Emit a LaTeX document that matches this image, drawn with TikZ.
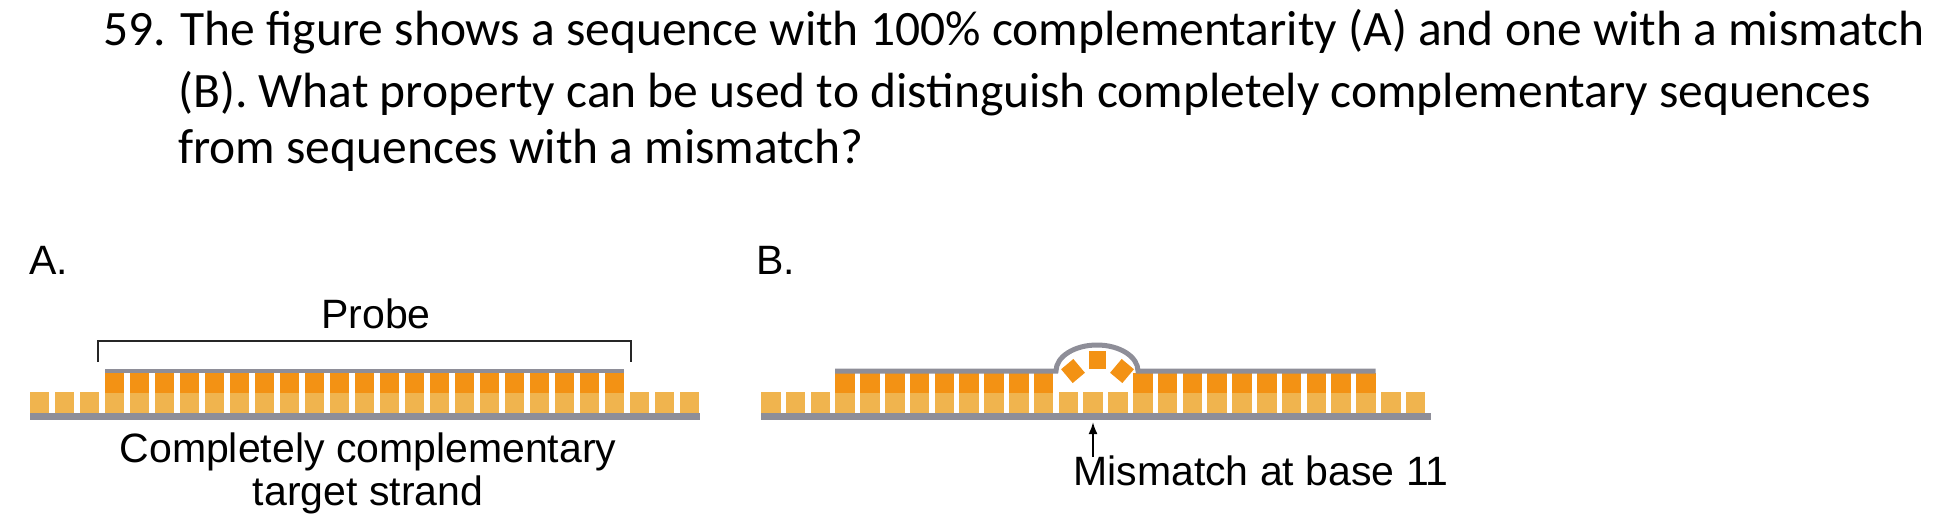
\documentclass[tikz,border=0pt]{standalone}
\usepackage{fontspec}
\usetikzlibrary{arrows.meta}
\setmainfont{Carlito}
\newfontfamily\arialf{Liberation Sans}
\definecolor{dko}{HTML}{F39214}
\definecolor{lto}{HTML}{F0B44E}
\definecolor{bb}{HTML}{8E8E98}
\begin{document}
\begin{tikzpicture}[x=1pt,y=-1pt,
  q/.style={anchor=base west,inner sep=0pt,font=\fontsize{49.5}{55}\selectfont},
  lab/.style={inner sep=0pt,font=\arialf\fontsize{41}{46}\selectfont},
  tb/.style={fill=lto,draw=none},
  pb/.style={fill=dko,draw=none},
  bbone/.style={fill=bb,draw=none}]
\useasboundingbox (0,0) rectangle (1948,520);
\node[q] (l1) at (103,45) {59. The figure shows a sequence with 100\% complementarity (A) and one with a mismatch};
\node[q] (l2) at (178,107) {(B). What property can be used to distinguish completely complementary sequences};
\node[q] (l3) at (178,163) {from sequences with a mismatch?};
\node[lab,anchor=base west] (A) at (29,274) {A.};
\node[lab,anchor=base west] (B) at (756,274) {B.};
% Panel A
\fill[bbone] (30,413) rectangle (700,420);
\fill[bbone] (105,369) rectangle (624,373);
\foreach \i in {0,...,26}{
  \fill[tb] (30+25*\i,392) rectangle (49+25*\i,413);
  \ifnum\i>2 \ifnum\i<24
    \fill[pb] (30+25*\i,373) rectangle (49+25*\i,393);
  \fi\fi
}
\draw[line width=2.2pt,black!85] (98,362) -- (98,341) -- (631,341) -- (631,362);
\node[lab] (probe) at (376,314) {Probe};
\node[lab,align=center] (tgt) at (368,473) {Completely complementary\\[-3pt]target strand};
% Panel B
\fill[bbone] (761,413) rectangle (1431,420);
\foreach \i in {0,...,26}{
  \fill[tb] (761+24.8*\i,392) rectangle (780.5+24.8*\i,413);
  \ifnum\i>2 \ifnum\i<25 \ifnum\i<12
    \fill[pb] (761+24.8*\i,373) rectangle (780.5+24.8*\i,393);
  \fi\ifnum\i>14
    \fill[pb] (761+24.8*\i,373) rectangle (780.5+24.8*\i,393);
  \fi\fi\fi
}
\draw[bb,line width=5pt] (835,371) -- (1056,371) arc[start angle=180,end angle=360,x radius=41,y radius=26] -- (1375.5,371);
\fill[pb] (1089,351) rectangle (1106,369);
\fill[pb,rotate around={40:(1073,371)}] (1065,362) rectangle (1081,380);
\fill[pb,rotate around={-40:(1122,371)}] (1114,362) rectangle (1130,380);
\coordinate (mm) at (1093,422);
\node[lab,anchor=base] (mlab) at (1261,485) {Mismatch at base 11};
\draw[line width=2pt,-{Latex[length=12pt,width=9pt]}] (1093,457) -- (mm);
\end{tikzpicture}
\end{document}
